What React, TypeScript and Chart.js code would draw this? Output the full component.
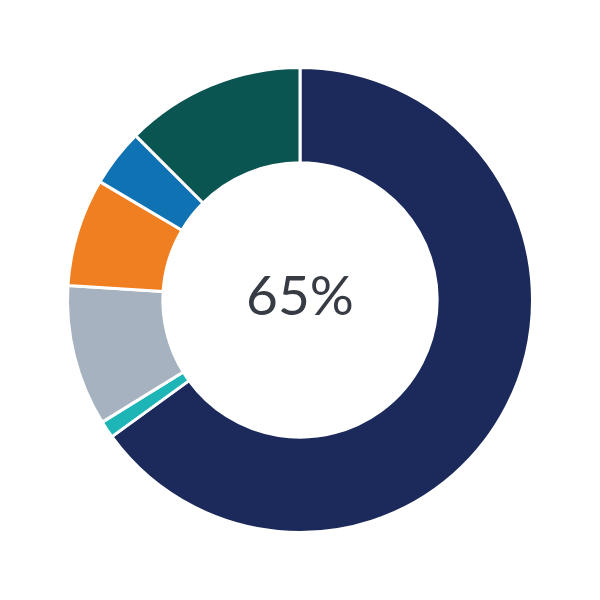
import React, { useEffect, useRef } from "react";
import { Chart, registerables } from "chart.js";

Chart.register(...registerables);

const categories = ["Segment A", "Segment B", "Segment C", "Segment D", "Segment E", "Segment F"];
const values = [65, 1.2, 9.8, 7.5, 4, 12.5];
const colors = ["#1b2a5b", "#1db5b6", "#a7b2c0", "#f07f22", "#0e72b3", "#0a5552"];
const centerLabel = "65%";

const centerText = {
  id: "centerText",
  afterDraw(chart: any) {
    const { ctx, chartArea } = chart;
    const cx = (chartArea.left + chartArea.right) / 2;
    const cy = (chartArea.top + chartArea.bottom) / 2;
    ctx.save();
    ctx.font = "400 55px Lato, 'Open Sans', sans-serif";
    ctx.fillStyle = "#363b44";
    ctx.textAlign = "center";
    ctx.textBaseline = "alphabetic";
    ctx.fillText(centerLabel, cx, cy + 15);
    ctx.restore();
  },
};

export default function App() {
  const ref = useRef<HTMLCanvasElement>(null);
  useEffect(() => {
    if (!ref.current) return;
    const chart = new Chart(ref.current, {
      type: "doughnut",
      data: {
        labels: categories,
        datasets: [
          {
            data: values,
            backgroundColor: colors,
            borderColor: "#ffffff",
            borderWidth: 3,
            hoverOffset: 0,
          },
        ],
      },
      options: {
        animation: false,
        responsive: true,
        maintainAspectRatio: false,
        cutout: "59%",
        layout: { padding: 66 },
        plugins: { legend: { display: false }, tooltip: { enabled: false } },
      },
      plugins: [centerText],
    });
    return () => chart.destroy();
  }, []);
  return (
    <div style={{ position: "absolute", left: 0, top: 0, width: 600, height: 600, background: "#fff" }}>
      <canvas ref={ref} />
    </div>
  );
}
